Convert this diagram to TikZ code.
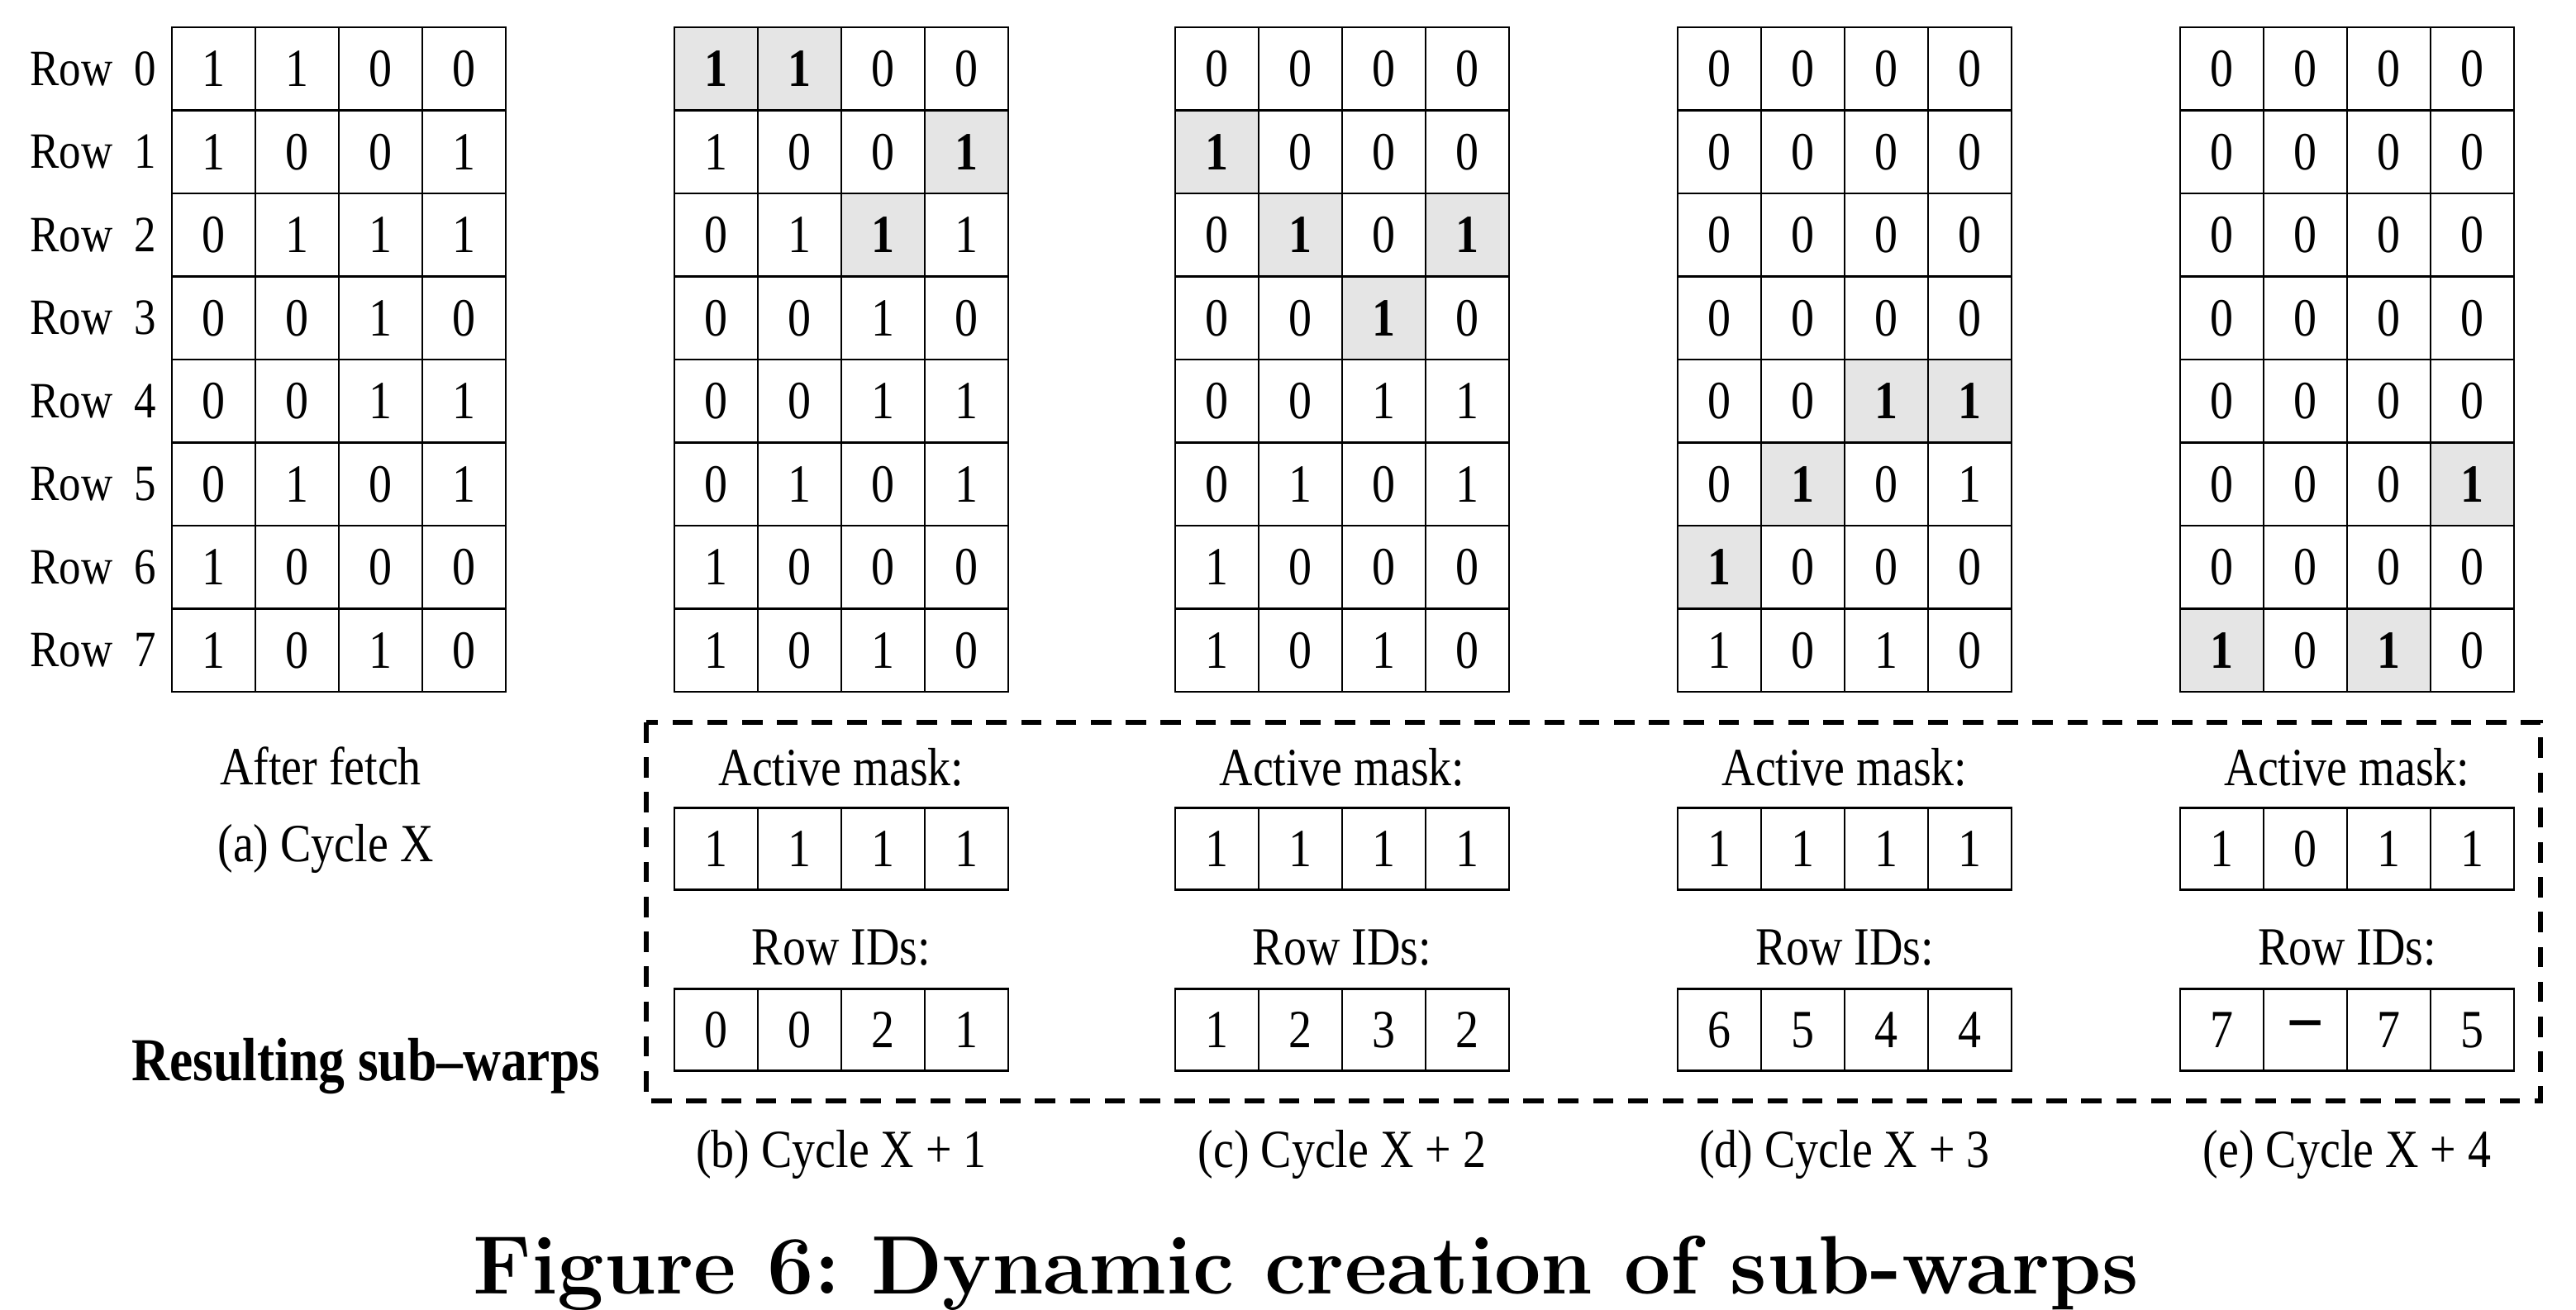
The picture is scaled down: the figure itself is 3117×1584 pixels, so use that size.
\documentclass[tikz,border=0pt]{standalone}
\usepackage{fontspec}
\newfontfamily\tms[FakeStretch=0.86]{Liberation Serif}
\begin{document}
\begin{tikzpicture}[x=0.01cm,y=-0.01cm,
  cell/.style={draw,line width=0.6pt,minimum width=1.01cm,minimum height=1.005cm,inner sep=0,font=\tms\fontsize{18.5}{20}\selectfont},
  hcell/.style={cell,fill=black!10},
  mcell/.style={cell,minimum height=0.99cm},
  lbl/.style={font=\tms\fontsize{18.5}{20}\selectfont,inner sep=0},
  rlbl/.style={font=\tms\fontsize{17.5}{20}\selectfont,inner sep=0}]
\useasboundingbox (0,0) rectangle (3117,1584);
\newcommand\mygrid[3]{%
 \foreach \vals [count=\r from 0] in {#3} {
  \foreach \v [count=\c from 0] in \vals {
   \if H\v
    \node[hcell] (#1-\r-\c) at ({#2+\c*101+50.5},{33+\r*100.5+50.25}) {\textbf{1}};
   \else
    \node[cell] (#1-\r-\c) at ({#2+\c*101+50.5},{33+\r*100.5+50.25}) {\v};
   \fi
  }}}
\newcommand\myrow[4]{%
 \foreach \v [count=\c from 0] in {#4} {
  \node[mcell] (#1-\c) at ({#2+\c*101+50.5},#3) {\v};}}
% grids
\mygrid{a}{208}{{1,1,0,0},{1,0,0,1},{0,1,1,1},{0,0,1,0},{0,0,1,1},{0,1,0,1},{1,0,0,0},{1,0,1,0}}
\mygrid{b}{816}{{H,H,0,0},{1,0,0,H},{0,1,H,1},{0,0,1,0},{0,0,1,1},{0,1,0,1},{1,0,0,0},{1,0,1,0}}
\mygrid{c}{1422}{{0,0,0,0},{H,0,0,0},{0,H,0,H},{0,0,H,0},{0,0,1,1},{0,1,0,1},{1,0,0,0},{1,0,1,0}}
\mygrid{d}{2030}{{0,0,0,0},{0,0,0,0},{0,0,0,0},{0,0,0,0},{0,0,H,H},{0,H,0,1},{H,0,0,0},{1,0,1,0}}
\mygrid{e}{2638}{{0,0,0,0},{0,0,0,0},{0,0,0,0},{0,0,0,0},{0,0,0,0},{0,0,0,H},{0,0,0,0},{H,0,H,0}}
\foreach \r in {0,...,7} {\node[rlbl] (row\r) at (113,{33+\r*100.5+50.25}) {Row\ \ \r};}
% masks and ids
\myrow{bm}{816}{1027}{1,1,1,1}
\myrow{cm}{1422}{1027}{1,1,1,1}
\myrow{dm}{2030}{1027}{1,1,1,1}
\myrow{em}{2638}{1027}{1,0,1,1}
\myrow{bi}{816}{1246}{0,0,2,1}
\myrow{ci}{1422}{1246}{1,2,3,2}
\myrow{di}{2030}{1246}{6,5,4,4}
\myrow{ei}{2638}{1246}{7,{\bfseries\fontsize{24}{24}\selectfont –},7,5}
\foreach \n/\x in {b/1018,c/1624,d/2232,e/2840} {
  \node[lbl] (am\n) at (\x,928) {Active mask:};
  \node[lbl] (ri\n) at (\x,1147) {Row IDs:};
}
\node[lbl] (capb) at (1018,1397) {(b) Cycle X + 1};
\node[lbl] (capc) at (1624,1397) {(c) Cycle X + 2};
\node[lbl] (capd) at (2232,1397) {(d) Cycle X + 3};
\node[lbl] (cape) at (2840,1397) {(e) Cycle X + 4};
\node[lbl] (af) at (388,927) {After fetch};
\node[lbl] (ca) at (394,1027) {(a) Cycle X};
\node[lbl,font=\tms\bfseries\fontsize{21}{23}\selectfont] (rs) at (443,1290) {Resulting sub–warps};
\coordinate (bx1) at (782,874);
\coordinate (bx2) at (3074,1332);
\draw[line width=1.8pt,dash pattern=on 7pt off 5pt] (bx1) rectangle (bx2);
\node[font=\bfseries\fontsize{28.5}{32}\selectfont,inner sep=0] (title) at (1580,1540) {Figure 6:\ Dynamic creation of sub-warps};
\end{tikzpicture}
\end{document}
